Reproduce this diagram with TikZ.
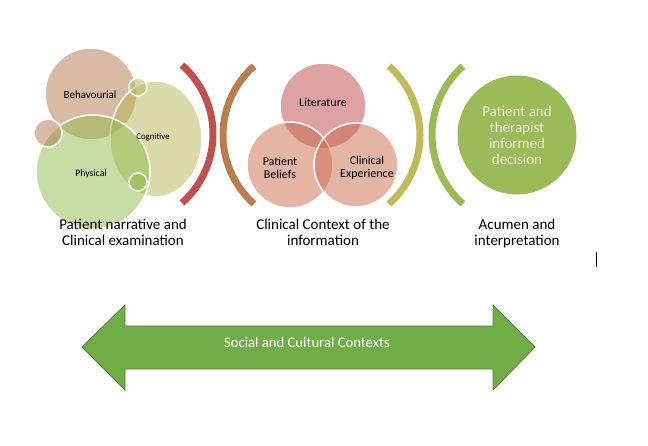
\documentclass[tikz,border=0pt]{standalone}
\usepackage{fontspec}
\setmainfont{Carlito}
\usepackage{tikz}
\usetikzlibrary{positioning, shapes.geometric}
\definecolor{behavtan}{HTML}{B3754A}
\definecolor{cogolive}{HTML}{B5B555}
\definecolor{physgreen}{HTML}{91B94B}
\definecolor{litpink}{HTML}{BD4545}
\definecolor{salmon}{HTML}{C9694B}
\definecolor{bracketred}{HTML}{C0504D}
\definecolor{bracketbrown}{HTML}{B97E4E}
\definecolor{bracketolive}{HTML}{C2B95B}
\definecolor{bracketgreen}{HTML}{9BBB59}
\definecolor{arrowgreen}{HTML}{70AD47}
\definecolor{arrowedge}{HTML}{507E32}
\definecolor{palegreen}{HTML}{EBF1DE}

\begin{document}
\begin{tikzpicture}[
  x=1pt, y=-1pt,
  blob/.style={circle, draw=white, line width=1.5pt, fill opacity=0.5, text opacity=1, inner sep=0pt, align=center},
  tag/.style={align=center, inner sep=0pt, text=black},
  caption/.style={align=center, inner sep=0pt, font={\fontsize{15pt}{16}\selectfont}},
  bracket/.style={line width=7pt}
]
\useasboundingbox (0,0) rectangle (648,445);

% left cluster
\node[blob, fill=behavtan, minimum size=92pt] (behav) at (91,94) {};
\node[blob, ellipse, fill=cogolive, minimum width=92pt, minimum height=116pt] (cog) at (156,139) {};
\node[blob, fill=physgreen, minimum size=114pt] (phys) at (93,172) {};
\node[blob, fill=behavtan, minimum size=28pt] (dotl) at (48,133) {};
\node[blob, fill=cogolive, minimum size=18pt] (dott) at (138,87) {};
\node[blob, fill=physgreen, minimum size=18pt] (dotb) at (138,182) {};
\node[tag, font={\fontsize{11pt}{13}\selectfont}] (behavtxt) at (90,95) {Behavourial};
\node[tag, font={\fontsize{8.8pt}{10}\selectfont}] (cogtxt) at (153,137) {Cognitive};
\node[tag, font={\fontsize{9.8pt}{11}\selectfont}] (phystxt) at (91,174) {Physical};
\draw[bracket, bracketred] (121,134) ++(-48.5:92) arc[start angle=-48.5, end angle=48.5, radius=92];
\node[caption] (narrative) at (123,232) {Patient narrative and\\Clinical examination};

% middle cluster
\draw[bracket, bracketbrown] (315,135) ++(131.5:92) arc[start angle=131.5, end angle=228.5, radius=92];
\node[blob, fill=litpink, minimum size=86pt] (lit) at (323,106) {};
\node[blob, fill=salmon, minimum size=86pt] (beliefs) at (290,165) {};
\node[blob, fill=salmon, minimum size=84pt] (exper) at (356,165) {};
\node[tag, font={\fontsize{12pt}{13}\selectfont}] (littxt) at (323,102) {Literature};
\node[tag, font={\fontsize{12pt}{13.5}\selectfont}] (beliefstxt) at (280,168) {Patient\\Beliefs};
\node[tag, font={\fontsize{12pt}{13.5}\selectfont}] (expertxt) at (367,168) {Clinical\\Experience};
\draw[bracket, bracketolive] (328,135) ++(-48.5:92) arc[start angle=-48.5, end angle=48.5, radius=92];
\node[caption] (context) at (323,232) {Clinical Context of the\\information};

% right
\draw[bracket, bracketgreen] (524,135) ++(131.5:92) arc[start angle=131.5, end angle=228.5, radius=92];
\node[circle, fill=bracketgreen, minimum size=119pt, inner sep=0pt, align=center, text=palegreen,
  font={\fontsize{15pt}{16}\selectfont}] (decision) at (517,135) {Patient and\\therapist\\informed\\decision};
\node[caption] (acumen) at (517,233) {Acumen and\\interpretation};
\draw[line width=0.8pt] (596,252) -- (596,267);

% bottom arrow
\draw[fill=arrowgreen, draw=arrowedge, line width=0.8pt] (82,347) -- (125,305) -- (125,326) -- (493,326)
  -- (493,305) -- (535,347) -- (493,390) -- (493,369) -- (125,369) -- (125,390) -- cycle;
\node[text=white, inner sep=0pt, font={\fontsize{14.7pt}{16}\selectfont}] (social) at (307,342) {Social and Cultural Contexts};
\end{tikzpicture}
\end{document}
